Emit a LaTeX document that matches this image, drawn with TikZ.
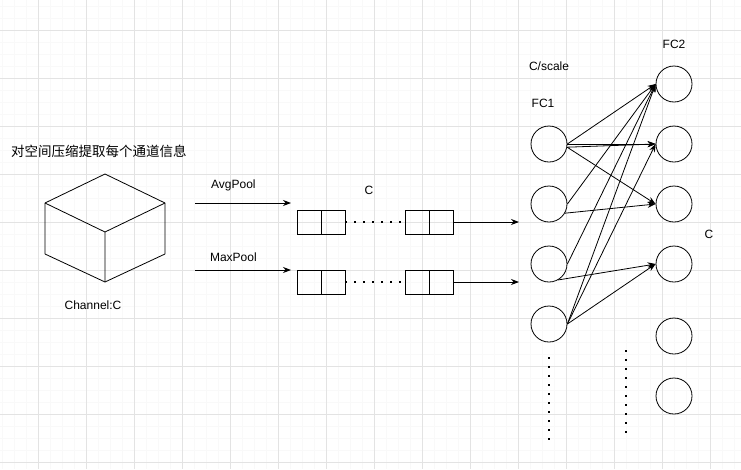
\documentclass[tikz,border=0pt]{standalone}
\usepackage{fontspec}
\setmainfont{Liberation Sans}
\newfontfamily\cjk{Noto Sans CJK SC}
\usetikzlibrary{arrows.meta,positioning}
\tikzset{
  lbl/.style={font=\fontsize{12pt}{14pt}\selectfont, inner sep=0pt},
  cell/.style={draw, thick, minimum width=24pt, minimum height=24pt, inner sep=0pt, outer sep=0pt},
  neuron/.style={draw, thick, circle, minimum size=36pt, inner sep=0pt},
  link/.style={-{Stealth[length=8pt,width=6pt]}, thick},
  dots/.style={line width=2pt, dash pattern=on 2pt off 7pt}
}
\begin{document}
\begin{tikzpicture}[x=1pt, y=-1pt]

    % Background grid
    \fill[white] (0,0) rectangle (741,469);
    \useasboundingbox (0,0) rectangle (741,469);
    \foreach \g in {2.3,14.3,...,741} \draw[gray!5] (\g,0) -- (\g,469);
    \foreach \g in {6.3,18.3,...,469} \draw[gray!5] (0,\g) -- (741,\g);
    \foreach \g in {38.3,86.3,...,741} \draw[gray!22] (\g,0) -- (\g,469);
    \foreach \g in {30.3,78.3,...,469} \draw[gray!22] (0,\g) -- (741,\g);

    % Title and cube
    \node[lbl, anchor=west, font=\cjk\fontsize{13.5pt}{15pt}\selectfont] (title) at (11,151) {对空间压缩提取每个通道信息};
    \draw[thick, line join=round] (45,203) -- (105,174) -- (165,203) -- (165,254) -- (105,282) -- (45,254) -- cycle;
    \draw[thick, line join=round] (45,203) -- (105,232) -- (165,203) (105,232) -- (105,282);
    \node[lbl] (chan) at (93,305) {Channel:C};

    % Pooling rows
    \coordinate (avgin) at (195,203);
    \coordinate (avgout) at (291,203);
    \coordinate (maxin) at (195,270);
    \coordinate (maxout) at (291,270);
    \draw[link] (avgin) -- (avgout) node[lbl, pos=0.4, above=12pt] {AvgPool};
    \draw[link] (maxin) -- (maxout) node[lbl, pos=0.4, above=8pt] {MaxPool};

    \node[cell] (a1) at (309,222) {};
    \node[cell, right=0pt of a1] (a2) {};
    \node[cell] (a3) at (417,222) {};
    \node[cell, right=0pt of a3] (a4) {};
    \node[cell] (m1) at (309,282) {};
    \node[cell, right=0pt of m1] (m2) {};
    \node[cell] (m3) at (417,282) {};
    \node[cell, right=0pt of m3] (m4) {};
    \draw[dots] (a2.east) -- (a3.west);
    \draw[dots] (m2.east) -- (m3.west);
    \node[lbl] (clen) at (369,190) {C};

    \coordinate (avgend) at (519,222);
    \coordinate (maxend) at (519,282);
    \draw[link] (a4.east) -- (avgend);
    \draw[link] (m4.east) -- (maxend);

    % FC layers
    \foreach \i/\y in {1/144,2/204,3/264,4/324}
        \node[neuron] (f\i) at (549,\y) {};
    \foreach \i/\y in {1/84,2/144,3/204,4/264,5/336,6/396}
        \node[neuron] (g\i) at (674,\y) {};
    \node[lbl] (fcone) at (543,103) {FC1};
    \node[lbl] (scale) at (549,66) {C/scale};
    \node[lbl] (fctwo) at (674,44) {FC2};
    \node[lbl] (cout) at (709,234) {C};

    \draw[dots] (549,357) -- (549,442);
    \draw[dots] (626,350) -- (626,437);

    % Connections
    \foreach \s in {f1,f2,f3,f4}
        \draw[link] (\s.east) -- (g1.west);
    \draw[link] (f1.east) -- (g2.west);
    \draw[link] (f1.-10) -- (g2.west);
    \draw[link] (f4.east) -- (g2.west);
    \draw[link] (f1.-10) -- (g3.west);
    \draw[link] (f2.-30) -- (g3.west);
    \draw[link] (f3.-60) -- (g4.west);
    \draw[link] (f4.east) -- (g4.west);

\end{tikzpicture}
\end{document}
